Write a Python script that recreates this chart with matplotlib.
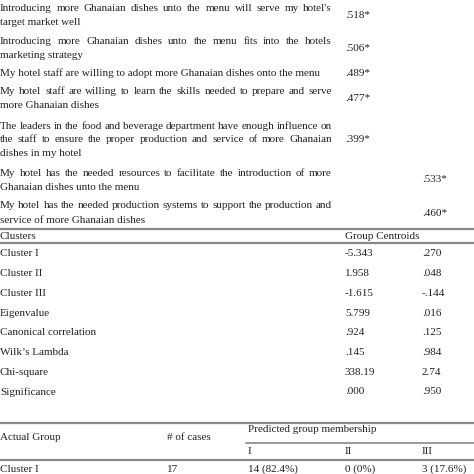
import matplotlib
matplotlib.use("Agg")
import matplotlib.pyplot as plt

items = [
    (["Introducing more Ghanaian dishes unto the menu will serve my hotel's", "target market well"], ".518*", 1),
    (["Introducing more Ghanaian dishes unto the menu fits into the hotels", "marketing strategy"], ".506*", 1),
    (["My hotel staff are willing to adopt more Ghanaian dishes onto the menu"], ".489*", 1),
    (["My hotel staff are willing to learn the skills needed to prepare and serve", "more Ghanaian dishes"], ".477*", 1),
    (["The leaders in the food and beverage department have enough influence on",
      "the staff to ensure the proper production and service of more Ghanaian",
      "dishes in my hotel"], ".399*", 1),
    (["My hotel has the needed resources to facilitate the introduction of more",
      "Ghanaian dishes unto the menu"], ".533*", 2),
    (["My hotel has the needed production systems to support the production and",
      "service of more Ghanaian dishes"], ".460*", 2),
]
item_y = [8, 41, 73, 91, 126, 173, 206]

cluster_labels = ["Cluster I", "Cluster II", "Cluster III", "Eigenvalue", "Canonical correlation",
                  "Wilk\u2019s Lambda", "Chi-square", "Significance"]
func1 = ["-5.343", "1.958", "-1.615", "5.799", ".924", ".145", "338.19", ".000"]
func2 = [".270", ".048", "-.144", ".016", ".125", ".984", "2.74", ".950"]

class_groups = ["Cluster I"]
class_cases = ["17"]
class_pred = [["14 (82.4%)", "0 (0%)", "3 (17.6%)"]]

FS = 8.0
FAM = "Liberation Serif"
W = 332
LH = 14

fig = plt.figure(figsize=(4.74, 4.74), dpi=100)
ax = fig.add_axes([0, 0, 1, 1])
ax.set_xlim(0, 474)
ax.set_ylim(474, 0)
ax.axis("off")
fig.canvas.draw()
r = fig.canvas.get_renderer()
kw = dict(fontsize=FS, family=FAM, color="#222222", va="center")

def wwidth(s):
    t = ax.text(0, 0, s, **kw)
    bb = t.get_window_extent(renderer=r)
    t.remove()
    return bb.width

def justified(line, y):
    words = line.split(" ")
    ws = [wwidth(w) for w in words]
    gap = (W - sum(ws)) / (len(words) - 1)
    x = 0
    for w, wd in zip(words, ws):
        ax.text(x, y, w, ha="left", **kw)
        x += wd + gap

cols = {1: 345, 2: 422}
for (lines, val, c), y in zip(items, item_y):
    for i, ln in enumerate(lines):
        yy = y + i * LH
        if i < len(lines) - 1:
            justified(ln, yy)
        else:
            ax.text(0, yy, ln, ha="left", **kw)
    ymid = y + (len(lines) - 1) * LH / 2
    ax.text(cols[c], ymid, val, ha="left", **kw)

lc = "#888888"
ax.plot([0, 474], [229, 229], color=lc, lw=1.6)
ax.text(0, 236, "Clusters", ha="left", **kw)
ax.text(345, 236, "Group Centroids", ha="left", **kw)
ax.plot([0, 474], [243, 243], color=lc, lw=1.6)
for i, (lab, a, b) in enumerate(zip(cluster_labels, func1, func2)):
    y = 254 + i * 19.7
    ax.text(0, y, lab, ha="left", **kw)
    ax.text(345, y, a, ha="left", **kw)
    ax.text(422, y, b, ha="left", **kw)

ax.plot([0, 474], [423, 423], color=lc, lw=1.6)
ax.text(0, 437, "Actual Group", ha="left", **kw)
ax.text(167, 437, "# of cases", ha="left", **kw)
ax.text(248, 430, "Predicted group membership", ha="left", **kw)
ax.plot([246, 474], [443, 443], color=lc, lw=1.2)
for x, s in zip([248, 345, 422], ["I", "II", "III"]):
    ax.text(x, 452, s, ha="left", **kw)
ax.plot([0, 474], [460, 460], color=lc, lw=1.6)
for g, n, p in zip(class_groups, class_cases, class_pred):
    ax.text(0, 469, g, ha="left", **kw)
    ax.text(167, 469, n, ha="left", **kw)
    for x, s in zip([248, 345, 422], p):
        ax.text(x, 469, s, ha="left", **kw)

fig.savefig("out.png", dpi=100, facecolor="white")
